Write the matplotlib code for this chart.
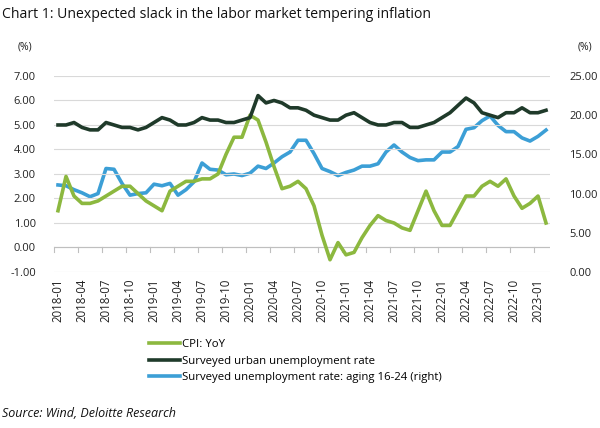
import numpy as np
import matplotlib.pyplot as plt

plt.rcParams['font.family'] = ['Open Sans', 'DejaVu Sans']

# monthly data, 2018-01 .. 2023-02
meses = [f'{a}-{m:02d}' for a in range(2018, 2024) for m in range(1, 13)][:62]

cpi = [1.5, 2.9, 2.1, 1.8, 1.8, 1.9, 2.1, 2.3, 2.5, 2.5, 2.2, 1.9,
       1.7, 1.5, 2.3, 2.5, 2.7, 2.7, 2.8, 2.8, 3.0, 3.8, 4.5, 4.5,
       5.4, 5.2, 4.3, 3.3, 2.4, 2.5, 2.7, 2.4, 1.7, 0.5, -0.5, 0.2,
       -0.3, -0.2, 0.4, 0.9, 1.3, 1.1, 1.0, 0.8, 0.7, 1.5, 2.3, 1.5,
       0.9, 0.9, 1.5, 2.1, 2.1, 2.5, 2.7, 2.5, 2.8, 2.1, 1.6, 1.8,
       2.1, 1.0]

desempleo_urbano = [5.0, 5.0, 5.1, 4.9, 4.8, 4.8, 5.1, 5.0, 4.9, 4.9, 4.8, 4.9,
                    5.1, 5.3, 5.2, 5.0, 5.0, 5.1, 5.3, 5.2, 5.2, 5.1, 5.1, 5.2,
                    5.3, 6.2, 5.9, 6.0, 5.9, 5.7, 5.7, 5.6, 5.4, 5.3, 5.2, 5.2,
                    5.4, 5.5, 5.3, 5.1, 5.0, 5.0, 5.1, 5.1, 4.9, 4.9, 5.0, 5.1,
                    5.3, 5.5, 5.8, 6.1, 5.9, 5.5, 5.4, 5.3, 5.5, 5.5, 5.7, 5.5,
                    5.5, 5.6]

desempleo_jovenes = [11.1, 11.0, 10.5, 10.1, 9.6, 10.0, 13.2, 13.1, 11.3, 9.8, 10.0, 10.1,
                     11.2, 11.0, 11.3, 9.8, 10.5, 11.5, 13.9, 13.1, 13.0, 12.4, 12.5, 12.3,
                     12.6, 13.5, 13.2, 13.9, 14.7, 15.3, 16.8, 16.8, 15.1, 13.2, 12.8, 12.3,
                     12.7, 13.0, 13.5, 13.5, 13.8, 15.3, 16.2, 15.3, 14.6, 14.2, 14.3, 14.3,
                     15.3, 15.3, 16.0, 18.2, 18.4, 19.3, 19.9, 18.7, 17.9, 17.9, 17.1, 16.7,
                     17.3, 18.1]

verde = '#8CB83F'
oscuro = '#1F3A2A'
azul = '#3C9FD6'
gris = '#D9D9D9'

x = np.arange(len(meses))

fig = plt.figure(figsize=(6, 4.28), dpi=100)
ax = fig.add_axes([0.09, 0.3645, 0.8267, 0.458])
ax2 = ax.twinx()

l1, = ax.plot(x, cpi, color=verde, lw=2.6, label='CPI: YoY')
l2, = ax.plot(x, desempleo_urbano, color=oscuro, lw=2.6, label='Surveyed urban unemployment rate')
l3, = ax2.plot(x, desempleo_jovenes, color=azul, lw=2.6,
               label='Surveyed unemployment rate: aging 16-24 (right)')

# ejes y
ax.set_ylim(-1, 7)
ax.set_yticks(np.arange(-1, 8, 1))
ax.set_yticklabels([f'{v:.2f}' for v in np.arange(-1, 8, 1)])
ax2.set_ylim(0, 25)
ax2.set_yticks(np.arange(0, 26, 5))
ax2.set_yticklabels([f'{v:.2f}' for v in np.arange(0, 26, 5)])
ax.set_xlim(-0.5, len(meses) - 0.5)

for v in np.arange(-1, 8, 1):
    ax.axhline(v, color=gris, lw=0.8, zorder=0)

for a in (ax, ax2):
    for s in a.spines.values():
        s.set_visible(False)
    a.tick_params(axis='y', length=0, labelsize=8, colors='#222222')
ax.tick_params(axis='y', pad=13)
ax2.tick_params(axis='y', pad=14)

# eje x en 0 con marcas entre categorias
ax.set_xticks(x[::3])
ax.set_xticklabels(meses[::3], rotation=90, fontsize=8.3, color='#222222')
ax.tick_params(axis='x', length=0, pad=5)
for b in np.arange(-0.5, len(meses), 3):
    ax.plot([b, b], [0, -0.17], color='#BFBFBF', lw=0.8, zorder=1, clip_on=False)
ax.axhline(0, color='#BFBFBF', lw=0.8, zorder=1)

ax.set_zorder(ax2.get_zorder() + 1)
ax.patch.set_visible(False)

fig.text(0.003, 0.967, 'Chart 1: Unexpected slack in the labor market tempering inflation',
         fontsize=10.1, va='center', ha='left', color='#111111')
fig.text(0.03, 0.89, '(%)', fontsize=7.5, va='center', ha='left', color='#222222')
fig.text(0.962, 0.89, '(%)', fontsize=7.5, va='center', ha='left', color='#222222')

fig.legend(handles=[l1, l2, l3], loc='upper left', bbox_to_anchor=(0.24, 0.218),
           frameon=False, fontsize=8.2, handlelength=2.8, handletextpad=0.1,
           labelspacing=0.48, borderaxespad=0)

fig.text(0.003, 0.035, 'Source: Wind, Deloitte Research', fontsize=9, style='italic',
         va='center', ha='left', color='#111111')

fig.savefig('out.png', dpi=100)
